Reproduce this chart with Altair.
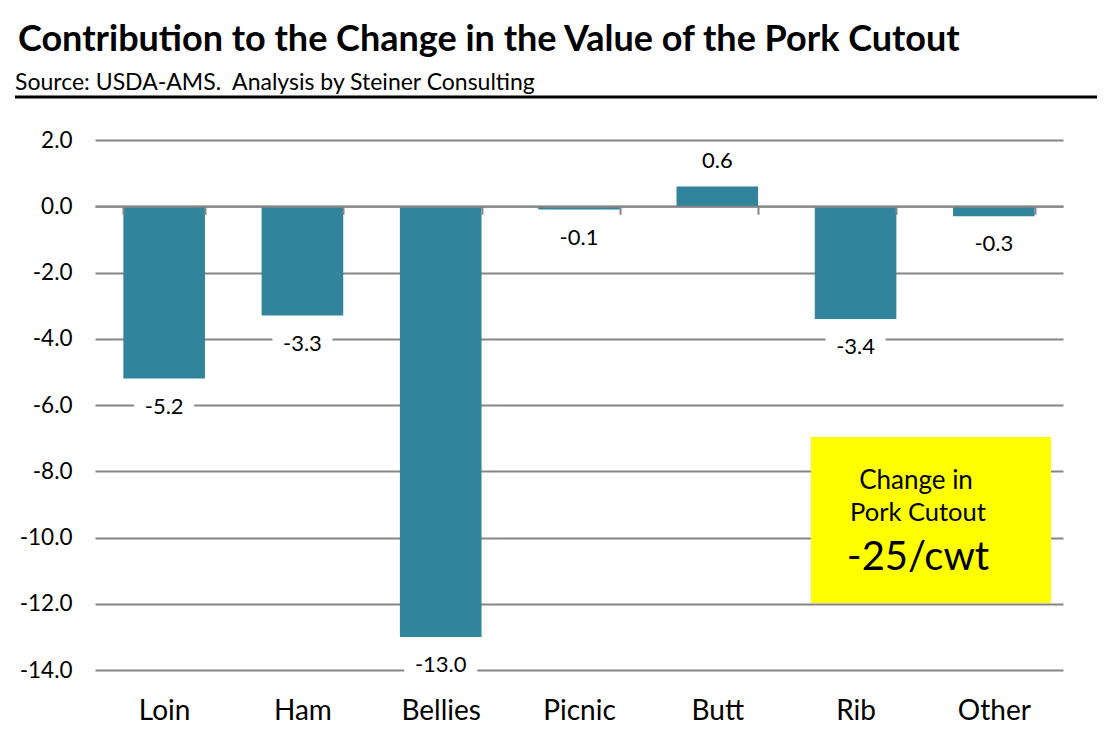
import altair as alt
import pandas as pd

# Contribution of each primal to the change in the pork cutout value ($/cwt)
categories = ["Loin", "Ham", "Bellies", "Picnic", "Butt", "Rib", "Other"]
values = [-5.2, -3.3, -13.0, -0.1, 0.6, -3.4, -0.3]
y_ticks = [2, 0, -2, -4, -6, -8, -10, -12, -14]

title_text = "Contribution to the Change in the Value of the Pork Cutout"
source_text = "Source: USDA-AMS.\u00a0 Analysis by Steiner Consulting"
box_lines = ["Change in", "Pork Cutout"]
box_value = "-25/cwt"

FONT = "Lato"
BAR = "#31849B"
GRID = "#868686"

W, H = 968, 530
Y_MIN, Y_MAX = -14, 2
zero_px = (Y_MAX - 0) / (Y_MAX - Y_MIN) * H


def backdrop(text):
    # white rectangle behind a value label, in pixel units (symbol size 4 -> scale 1)
    half = (13 * len(text) + 8) / 2
    return f"M{-half},-19H{half}V19H{-half}Z"


labels = [f"{v:.1f}" for v in values]
df = pd.DataFrame({
    "cat": categories,
    "value": values,
    "label": labels,
    "box": [backdrop(t) for t in labels],
})

x_enc = alt.X(
    "cat:N",
    sort=categories,
    title=None,
    scale=alt.Scale(paddingInner=0.41, paddingOuter=0.205),
    axis=alt.Axis(
        orient="bottom",
        offset=-(H - zero_px),
        tickBand="extent",
        domainColor=GRID,
        domainWidth=2,
        tickColor=GRID,
        tickWidth=2,
        tickSize=8,
        labelPadding=H - zero_px + 19,
        labelFont=FONT,
        labelFontSize=28,
        labelColor="black",
        labelAngle=0,
        zindex=1,
    ),
)
y_enc = alt.Y(
    "value:Q",
    title=None,
    scale=alt.Scale(domain=[Y_MIN, Y_MAX], nice=False, zero=False),
    axis=alt.Axis(
        values=y_ticks,
        labelExpr="replace(format(datum.value, '.1f'), '\u2212', '-')",
        grid=True,
        gridColor=GRID,
        gridWidth=2,
        domain=False,
        ticks=False,
        labelPadding=23,
        labelFont=FONT,
        labelFontSize=22.5,
        labelColor="black",
    ),
)

base = alt.Chart(df)

bars = base.mark_bar(color=BAR).encode(x=x_enc, y=y_enc)

neg = base.transform_filter("datum.value < 0")
pos = base.transform_filter("datum.value >= 0")

point_kw = dict(filled=True, color="white", opacity=1, size=4, strokeWidth=0)
shape_enc = alt.Shape("box:N", scale=None)
neg_bg = neg.mark_point(yOffset=28, **point_kw).encode(x=x_enc, y=y_enc, shape=shape_enc)
pos_bg = pos.mark_point(yOffset=-25, **point_kw).encode(x=x_enc, y=y_enc, shape=shape_enc)

text_kw = dict(font=FONT, fontSize=22, color="black", baseline="middle")
neg_txt = neg.mark_text(dy=28, **text_kw).encode(x=x_enc, y=y_enc, text="label:N")
pos_txt = pos.mark_text(dy=-25, **text_kw).encode(x=x_enc, y=y_enc, text="label:N")

one = alt.Chart(pd.DataFrame({"k": [0]}))

# yellow call-out with the total change
callout = one.mark_rect(color="#FFFF00").encode(
    x=alt.value(716), x2=alt.value(956), y=alt.value(297), y2=alt.value(463)
)
callout_l1 = one.mark_text(font=FONT, fontSize=26, color="black").encode(
    x=alt.value(821), y=alt.value(341), text=alt.value(box_lines[0])
)
callout_l2 = one.mark_text(font=FONT, fontSize=25.5, color="black").encode(
    x=alt.value(823), y=alt.value(373), text=alt.value(box_lines[1])
)
callout_v = one.mark_text(font=FONT, fontSize=40, color="black").encode(
    x=alt.value(823), y=alt.value(418), text=alt.value(box_value)
)

# heading, source line and rule beneath them
head = one.mark_text(
    font=FONT, fontSize=36, fontWeight="bold", color="black", align="left", baseline="alphabetic"
).encode(x=alt.value(-77), y=alt.value(-89), text=alt.value(title_text))
source = one.mark_text(
    font=FONT, fontSize=23, color="black", align="left", baseline="alphabetic"
).encode(x=alt.value(-80), y=alt.value(-50), text=alt.value(source_text))
rule = one.mark_rule(color="black", strokeWidth=3).encode(
    x=alt.value(-80), x2=alt.value(1002), y=alt.value(-43)
)

chart = (
    alt.layer(bars, neg_bg, pos_bg, neg_txt, pos_txt, callout, callout_l1, callout_l2,
              callout_v, head, source, rule)
    .properties(
        width=W,
        height=H,
        autosize=alt.AutoSizeParams(type="none"),
        padding={"left": 95, "top": 140, "right": 52, "bottom": 67},
        background="white",
    )
    .configure_view(stroke=None)
)

chart.save("out.html", embed_options={"renderer": "svg", "actions": False})
